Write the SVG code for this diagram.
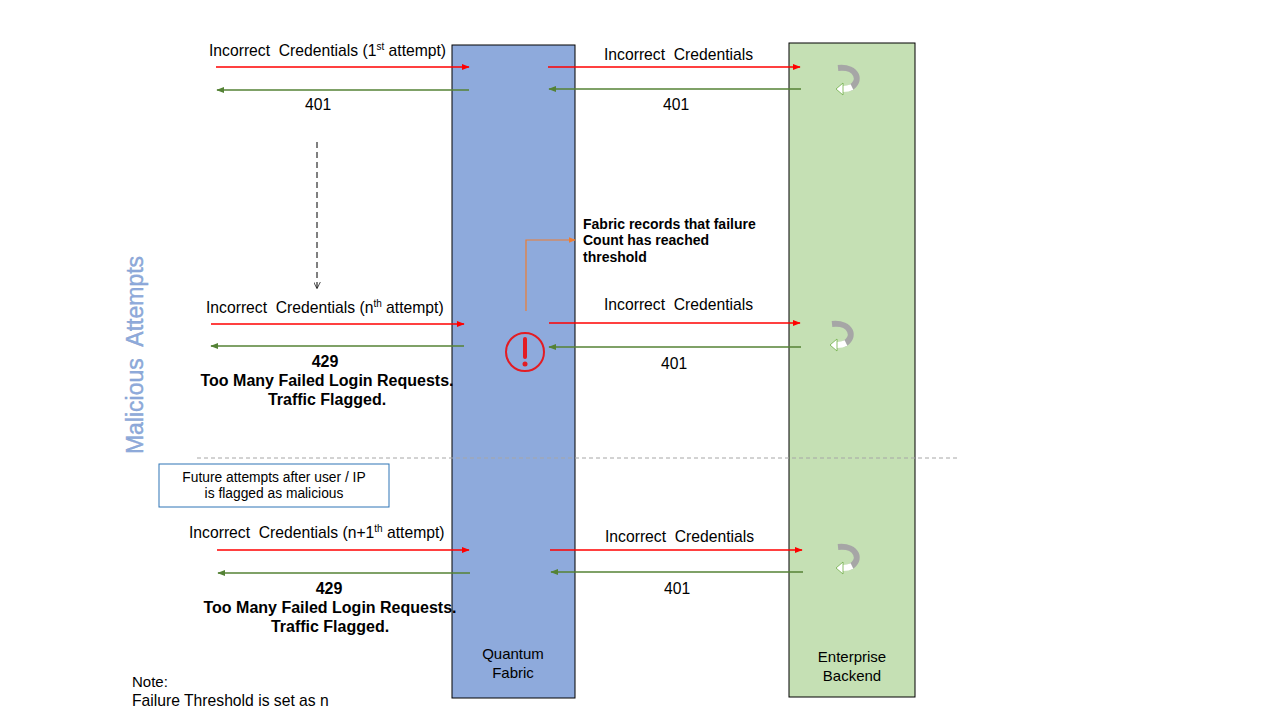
<svg xmlns="http://www.w3.org/2000/svg" width="1280" height="720" viewBox="0 0 1280 720">
<defs>
<marker id="ar" viewBox="0 0 10 10" refX="9" refY="5" markerWidth="6" markerHeight="6" orient="auto-start-reverse"><path d="M0,1 L10,5 L0,9z" fill="#ff0000"/></marker>
<marker id="ag" viewBox="0 0 10 10" refX="9" refY="5" markerWidth="6" markerHeight="6" orient="auto-start-reverse"><path d="M0,1 L10,5 L0,9z" fill="#548235"/></marker>
<marker id="ao" viewBox="0 0 10 10" refX="9" refY="5" markerWidth="6" markerHeight="6" orient="auto"><path d="M0,1 L10,5 L0,9z" fill="#ed7d31"/></marker>
<marker id="ak" viewBox="0 0 10 10" refX="9" refY="5" markerWidth="7" markerHeight="7" orient="auto"><path d="M0,0 L10,5 L0,10" fill="none" stroke="#000"/></marker>
<g id="loop"><path d="M-8,-10 C12,-12 16,4 4,10" fill="none" stroke="#a6a6a6" stroke-width="6"/><path d="M6,9 C2,11 -1,11 -3,11" fill="none" stroke="#fff" stroke-width="6"/><path d="M-3,5 L-10,11 L-3,17z" fill="#fff" stroke="#70ad47" stroke-width="0.8"/></g>
</defs>
<style>
text{font-family:"Liberation Sans",Arial,sans-serif;font-size:15.7px;fill:#000;white-space:pre}
.b{font-weight:bold;font-size:16px}
.s14{font-size:15px}
.s13{font-size:14px}
.r{stroke:#ff0000;stroke-width:1.3;marker-end:url(#ar)}
.g{stroke:#548235;stroke-width:1.3;marker-start:url(#ag)}
</style>
<rect width="1280" height="720" fill="#fff"/>
<g id="fabric"><rect x="452" y="45" width="123" height="653" fill="#8eaadc" stroke="#000" stroke-width="1"/><text x="513" y="659" text-anchor="middle" class="s14">Quantum</text><text x="513" y="678" text-anchor="middle" class="s14">Fabric</text></g>
<g id="backend"><rect x="789" y="43" width="126" height="654" fill="#c5e0b4" stroke="#000" stroke-width="1"/><text x="852" y="662" text-anchor="middle" class="s14">Enterprise</text><text x="852" y="681" text-anchor="middle" class="s14">Backend</text>
<use href="#loop" x="846" y="78"/><use href="#loop" x="840" y="334"/><use href="#loop" x="846" y="557"/></g>
<g id="connectors" fill="none">
<line class="r" x1="216" y1="67" x2="469" y2="67"/><line class="g" x1="217" y1="90" x2="469" y2="90"/>
<line class="r" x1="548" y1="67" x2="800" y2="67"/><line class="g" x1="549" y1="89" x2="801" y2="89"/>
<line class="r" x1="211" y1="324" x2="464" y2="324"/><line class="g" x1="211" y1="346" x2="464" y2="346"/>
<line class="r" x1="549" y1="323" x2="800" y2="323"/><line class="g" x1="549" y1="347" x2="801" y2="347"/>
<line class="r" x1="217" y1="550" x2="469" y2="550"/><line class="g" x1="218" y1="573" x2="470" y2="573"/>
<line class="r" x1="550" y1="550" x2="802" y2="550"/><line class="g" x1="551" y1="572" x2="803" y2="572"/>
<line x1="317" y1="142" x2="317" y2="288" stroke="#000" stroke-dasharray="6,4" marker-end="url(#ak)"/>
<path d="M526,311 V240 H575" stroke="#ed7d31" stroke-width="1.2" marker-end="url(#ao)"/>
<line x1="197" y1="458" x2="960" y2="458" stroke="#a6a6a6" stroke-dasharray="4,3"/>
</g>
<g id="labels">
<text x="209" y="56">Incorrect  Credentials (1<tspan font-size="10" dy="-6">st</tspan><tspan dy="6"> attempt)</tspan></text>
<text x="305" y="110">401</text>
<text x="604" y="60">Incorrect  Credentials</text><text x="663" y="110">401</text>
<text x="206" y="313">Incorrect  Credentials (n<tspan font-size="10" dy="-6">th</tspan><tspan dy="6"> attempt)</tspan></text>
<text x="325" y="367" class="b" text-anchor="middle">429</text>
<text x="327" y="386" class="b" text-anchor="middle">Too Many Failed Login Requests.</text>
<text x="327" y="405" class="b" text-anchor="middle">Traffic Flagged.</text>
<text x="604" y="310">Incorrect  Credentials</text><text x="661" y="369">401</text>
<text x="583" y="229" class="b s13">Fabric records that failure</text>
<text x="583" y="245" class="b s13">Count has reached</text>
<text x="583" y="262" class="b s13">threshold</text>
<text x="189" y="538">Incorrect  Credentials (n+1<tspan font-size="10" dy="-6">th</tspan><tspan dy="6"> attempt)</tspan></text>
<text x="329" y="594" class="b" text-anchor="middle">429</text>
<text x="330" y="613" class="b" text-anchor="middle">Too Many Failed Login Requests.</text>
<text x="330" y="632" class="b" text-anchor="middle">Traffic Flagged.</text>
<text x="605" y="542">Incorrect  Credentials</text><text x="664" y="594">401</text>
<text x="132" y="687" class="s14">Note:</text><text x="132" y="706" style="font-size:15.7px">Failure Threshold is set as n</text>
<text transform="translate(143,355) rotate(-90)" text-anchor="middle" style="font-size:23px;fill:#8faadc;stroke:#7f9fcf;stroke-width:0.4">Malicious  Attempts</text>
</g>
<g id="future"><rect x="159" y="464" width="230" height="43" fill="#fff" stroke="#2e75b6" stroke-width="1"/><text x="274" y="482" text-anchor="middle" style="font-size:13.8px">Future attempts after user / IP</text><text x="274" y="498" text-anchor="middle" style="font-size:13.8px">is flagged as malicious</text></g>
<g id="alert"><circle cx="525" cy="352" r="19" fill="none" stroke="#e31c23" stroke-width="2"/><line x1="525" y1="339" x2="525" y2="357" stroke="#e31c23" stroke-width="4" stroke-linecap="round"/><circle cx="525" cy="364" r="2.5" fill="#e31c23"/></g>
</svg>
